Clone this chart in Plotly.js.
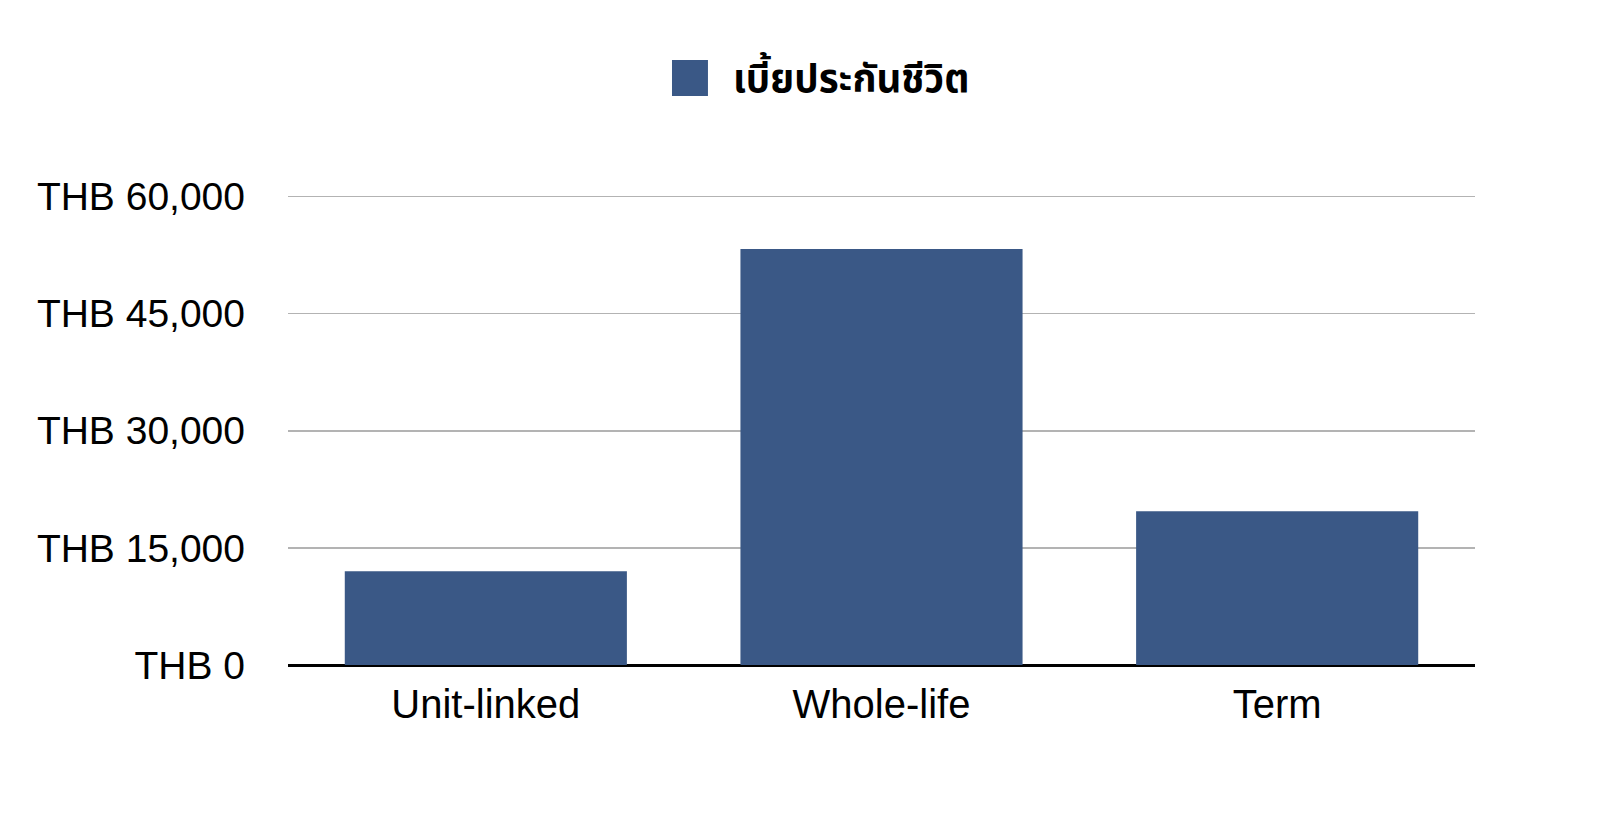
<!DOCTYPE html>
<html>
<head>
<meta charset="utf-8">
<script src="https://cdn.plot.ly/plotly-3.0.1.min.js"></script>
<style>
  html, body { margin: 0; padding: 0; background: #fff; }
  #chart { width: 1604px; height: 818px; }
</style>
</head>
<body>
<div id="chart"></div>
<script>
'use strict';

// Data
var categories = ['Unit-linked', 'Whole-life', 'Term'];
var premiums = [12000, 53300, 19700];
var seriesName = 'เบี้ยประกันชีวิต';
var tickValues = [0, 15000, 30000, 45000, 60000];
var tickLabels = ['THB 0', 'THB 15,000', 'THB 30,000', 'THB 45,000', 'THB 60,000'];

var barColor = '#3a5886';
var textFont = 'Liberation Sans, Arial, sans-serif';

function draw(node) {

    var traces = [{
        type: 'bar',
        name: seriesName,
        x: categories,
        y: premiums,
        marker: { color: barColor },
        showlegend: false,
        hoverinfo: 'none'
    }];

    // Custom legend: big square + bold label above the plot
    var shapes = [{
        type: 'rect',
        xref: 'paper', yref: 'paper',
        x0: 0.3235, x1: 0.3538,
        y0: 1.1756, y1: 1.25,
        fillcolor: barColor,
        line: { width: 0 }
    }];
    var annotations = [{
        xref: 'paper', yref: 'paper',
        x: 0.3735, y: 1.2087,
        xanchor: 'left', yanchor: 'middle',
        showarrow: false,
        text: '<b>' + seriesName + '</b>',
        font: { family: 'Noto Sans Thai, Noto Sans, sans-serif', size: 38.5, color: '#000' }
    }];

    Plotly.newPlot(node, traces, {
        width: 1604,
        height: 818,
        paper_bgcolor: '#fff',
        plot_bgcolor: '#fff',
        margin: { l: 288, r: 129, t: 181, b: 153 },
        bargap: 0.287,
        xaxis: {
            type: 'category',
            tickfont: { family: textFont, size: 40, color: '#000' },
            ticks: '',
            ticklabelstandoff: 12,
            showgrid: false,
            showline: false
        },
        yaxis: {
            range: [0, 62000],
            tickvals: tickValues,
            ticktext: tickLabels,
            tickfont: { family: textFont, size: 39, color: '#000' },
            ticks: '',
            ticklabelstandoff: 42,
            showgrid: true,
            gridcolor: '#b3b3b3',
            gridwidth: 1.5,
            zeroline: true,
            zerolinecolor: '#000',
            zerolinewidth: 3,
            showline: false
        },
        shapes: shapes,
        annotations: annotations
    }, { displayModeBar: false, staticPlot: true });
}

draw(document.getElementById('chart'));
</script>
</body>
</html>
